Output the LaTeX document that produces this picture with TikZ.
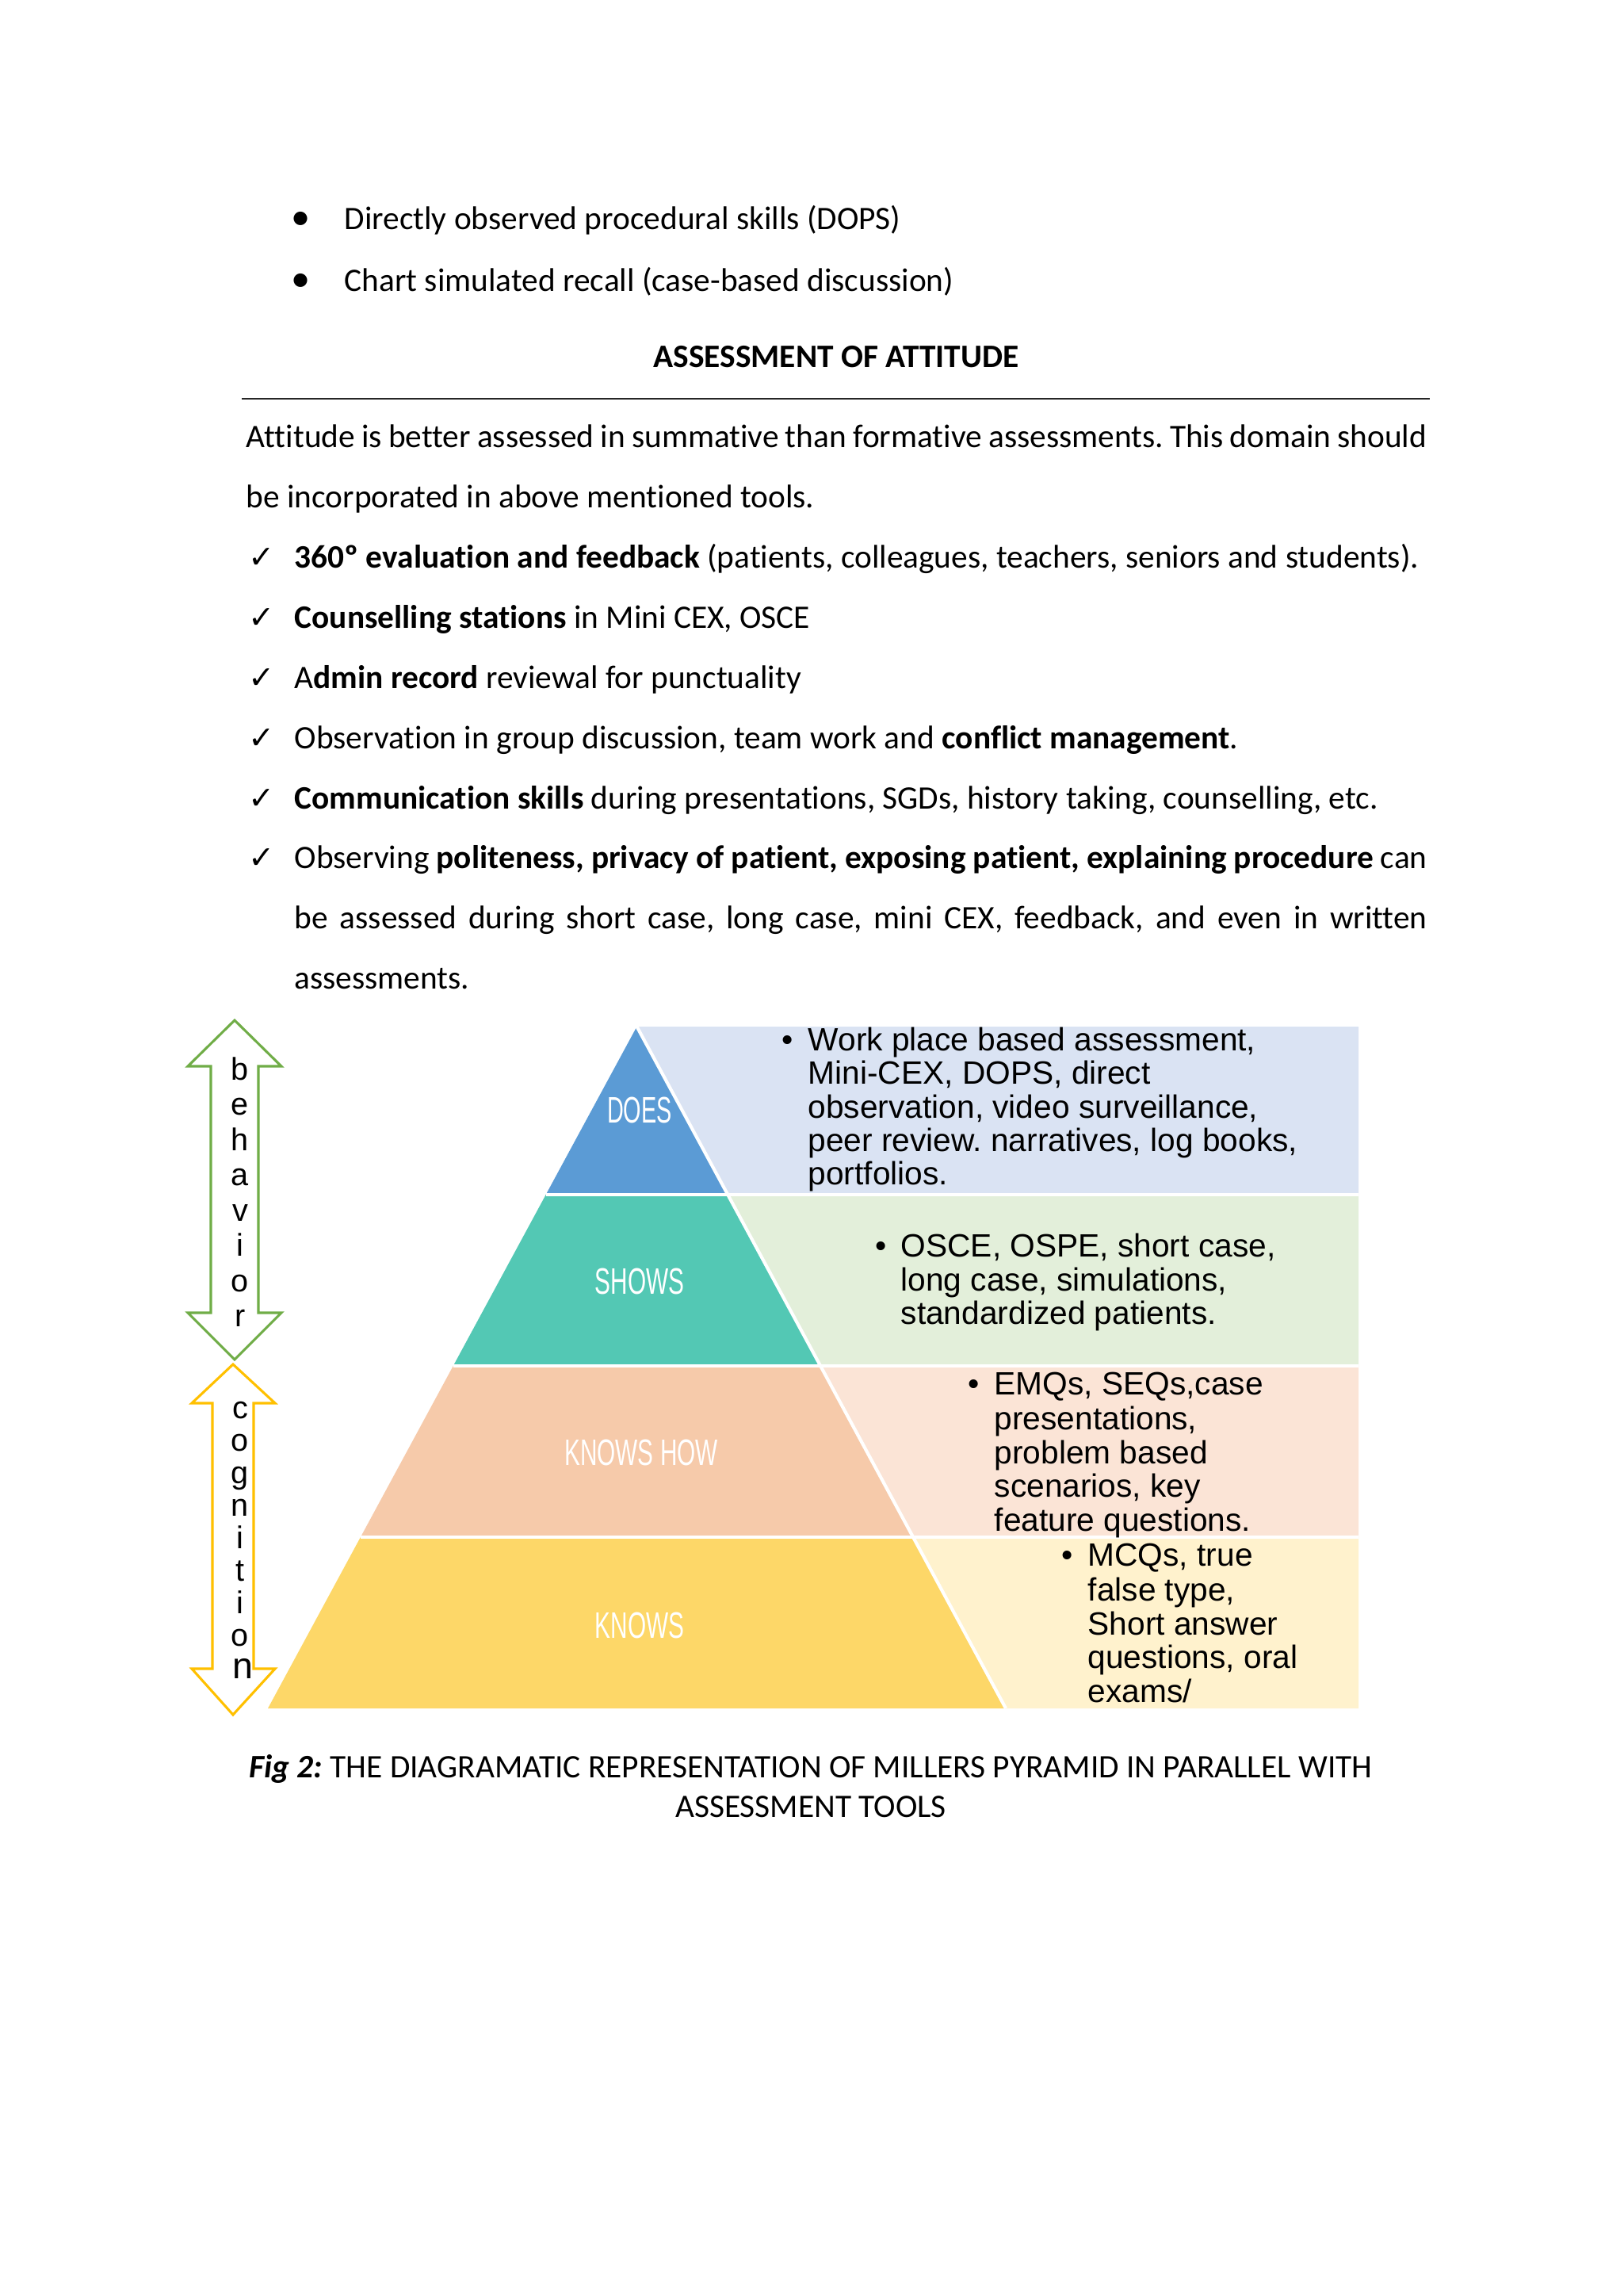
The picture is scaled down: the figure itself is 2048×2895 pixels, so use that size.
\documentclass[tikz,border=0pt]{standalone}
\usepackage{fontspec}
\setmainfont{Carlito}[Ligatures=NoCommon]
\newfontfamily\arialf{Liberation Sans}
\newfontfamily\dejavu{DejaVu Sans}
\frenchspacing
\definecolor{doesC}{HTML}{5B9BD5}
\definecolor{doesL}{HTML}{DAE3F3}
\definecolor{showsC}{HTML}{53C8B4}
\definecolor{showsL}{HTML}{E3EFDA}
\definecolor{khC}{HTML}{F6CAAA}
\definecolor{khL}{HTML}{FBE4D6}
\definecolor{knC}{HTML}{FDD768}
\definecolor{knL}{HTML}{FFF2CD}
\definecolor{arrG}{HTML}{70AD47}
\definecolor{arrY}{HTML}{FFC000}
\tikzset{
 body/.style={anchor=base west, inner sep=0pt, font=\fontsize{12}{14.6}\selectfont},
 chk/.style={anchor=base west, inner sep=0pt, font=\dejavu\fontsize{11.5}{12}\selectfont},
 bul/.style={anchor=base, inner sep=0pt, font=\fontsize{14}{15}\selectfont},
 dtext/.style={anchor=base west, inner sep=0pt, font=\arialf\fontsize{11.8}{12.3}\selectfont},
 dbul/.style={anchor=base, inner sep=0pt, font=\arialf\fontsize{11.8}{12.3}\selectfont},
 lvl/.style={text=white, inner sep=0pt, font=\arialf\fontsize{13.5}{13.5}\selectfont},
 letter/.style={anchor=base, inner sep=0pt, font=\arialf\fontsize{11.5}{12}\selectfont},
 sep/.style={white, line width=1.2pt},
 dblarrow/.style={line width=0.9pt, fill=white, line join=miter},
}
\begin{document}
\begin{tikzpicture}[x=0.29pt,y={(0pt,-0.29pt)}]
\useasboundingbox (0,0) rectangle (2048,2895);
\fill[white] (0,0) rectangle (2048,2895);

% ---------- body text ----------
\node[bul] (b1) at (380,290) {•};
\node[body] (t1) at (434,290) {Directly observed procedural skills (DOPS)};
\node[bul] (b2) at (380,368) {•};
\node[body] (t2) at (434,368) {Chart simulated recall (case-based discussion)};
\node[anchor=base, inner sep=0pt, font=\fontsize{12}{14.6}\selectfont\bfseries] (head) at (1055,464) {ASSESSMENT OF ATTITUDE};
\coordinate (rl) at (305,503);
\coordinate (rr) at (1804,503);
\draw[line width=0.6pt, black!85] (rl) -- (rr);
\node[body] (p1) at (310,565) {\makebox[432pt][s]{Attitude is better assessed in summative than formative assessments. This domain should}};
\node[body] (p2) at (310,641) {be incorporated in above mentioned tools.};

\node[chk] (c1) at (313,717) {✓};
\node[body] (l1) at (371,717) {\textbf{360º evaluation and feedback} (patients, colleagues, teachers, seniors and students).};
\node[chk] (c2) at (313,792) {✓};
\node[body] (l2) at (371,792) {\textbf{Counselling stations} in Mini CEX, OSCE};
\node[chk] (c3) at (313,868) {✓};
\node[body] (l3) at (371,868) {A\textbf{dmin record} reviewal for punctuality};
\node[chk] (c4) at (313,944) {✓};
\node[body] (l4) at (371,944) {Observation in group discussion, team work and \textbf{conflict management}.};
\node[chk] (c5) at (313,1020) {✓};
\node[body] (l5) at (371,1020) {\textbf{Communication skills} during presentations, SGDs, history taking, counselling, etc.};
\node[chk] (c6) at (313,1095) {✓};
\node[body] (l6) at (371,1095) {\makebox[414.4pt][s]{Observing \textbf{politeness, privacy of patient, exposing patient, explaining procedure} can}};
\node[body] (l7) at (371,1171) {\makebox[414.4pt][s]{be assessed during short case, long case, mini CEX, feedback, and even in written}};
\node[body] (l8) at (371,1247) {assessments.};

% ---------- pyramid geometry ----------
\coordinate (A) at (803.5,1295);
\coordinate (L1) at (688.7,1507);  \coordinate (R1) at (918.3,1507);
\coordinate (L2) at (571.8,1723);  \coordinate (R2) at (1035.2,1723);
\coordinate (L3) at (454.9,1939);  \coordinate (R3) at (1152.1,1939);
\coordinate (L4) at (338.0,2155);  \coordinate (R4) at (1269.0,2155);
\coordinate (E0) at (1714,1295);
\coordinate (E1) at (1714,1507);
\coordinate (E2) at (1714,1723);
\coordinate (E3) at (1714,1939);
\coordinate (E4) at (1714,2155);

% right-hand boxes
\fill[doesL]  (A) -- (E0) -- (E1) -- (R1) -- cycle;
\fill[showsL] (R1) -- (E1) -- (E2) -- (R2) -- cycle;
\fill[khL]    (R2) -- (E2) -- (E3) -- (R3) -- cycle;
\fill[knL]    (R3) -- (E3) -- (E4) -- (R4) -- cycle;
% pyramid bands
\fill[doesC]  (A) -- (R1) -- (L1) -- cycle;
\fill[showsC] (L1) -- (R1) -- (R2) -- (L2) -- cycle;
\fill[khC]    (L2) -- (R2) -- (R3) -- (L3) -- cycle;
\fill[knC]    (L3) -- (R3) -- (R4) -- (L4) -- cycle;
% white separators
\draw[sep] (A) -- (R4);
\draw[sep] (L1) -- (E1);
\draw[sep] (L2) -- (E2);
\draw[sep] (L3) -- (E3);

% level labels
\node[lvl] (does)  at (807,1400) {\scalebox{0.62}[1]{DOES}};
\node[lvl] (shows) at (807,1616) {\scalebox{0.64}[1]{SHOWS}};
\node[lvl] (kh)    at (809,1832) {\scalebox{0.64}[1]{KNOWS HOW}};
\node[lvl] (knows) at (807,2050) {\scalebox{0.64}[1]{KNOWS}};

% box texts
\node[dbul] (db) at (994,1325) {•};
\node[dtext] (d1) at (1019,1325) {Work place based assessment,};
\node[dtext] (d2) at (1019,1367) {Mini-CEX, DOPS, direct};
\node[dtext] (d3) at (1019,1410) {observation, video surveillance,};
\node[dtext] (d4) at (1019,1452) {peer review. narratives, log books,};
\node[dtext] (d5) at (1019,1494) {portfolios.};

\node[dbul] (sb) at (1112,1585) {•};
\node[dtext] (s1) at (1136,1585) {OSCE, OSPE, short case,};
\node[dtext] (s2) at (1136,1628) {long case, simulations,};
\node[dtext] (s3) at (1136,1670) {standardized patients.};

\node[dbul] (hb) at (1229,1759) {•};
\node[dtext] (h1) at (1254,1759) {EMQs, SEQs,case};
\node[dtext] (h2) at (1254,1803) {presentations,};
\node[dtext] (h3) at (1254,1846) {problem based};
\node[dtext] (h4) at (1254,1888) {scenarios, key};
\node[dtext] (h5) at (1254,1931) {feature questions.};

\node[dbul] (kb) at (1347,1975) {•};
\node[dtext] (k1) at (1372,1975) {MCQs, true};
\node[dtext] (k2) at (1372,2019) {false type,};
\node[dtext] (k3) at (1372,2062) {Short answer};
\node[dtext] (k4) at (1372,2104) {questions, oral};
\node[dtext] (k5) at (1372,2147) {exams/};

% ---------- double arrows ----------
\draw[dblarrow, draw=arrG] (296,1287) -- (355,1345) -- (326,1345) -- (326,1656) -- (355,1656)
  -- (296,1715) -- (237,1656) -- (266,1656) -- (266,1345) -- (237,1345) -- cycle;
\draw[dblarrow, draw=arrY] (294,1721) -- (347,1770) -- (320,1770) -- (320,2105) -- (347,2105)
  -- (294,2163) -- (242,2105) -- (268,2105) -- (268,1770) -- (242,1770) -- cycle;

\node[letter] (g1) at (303,1362) {b};
\node[letter] (g2) at (303,1406) {e};
\node[letter] (g3) at (303,1451) {h};
\node[letter] (g4) at (303,1495) {a};
\node[letter] (g5) at (303,1540) {v};
\node[letter] (g6) at (303,1584) {i};
\node[letter] (g7) at (303,1629) {o};
\node[letter] (g8) at (303,1673) {r};

\node[letter] (y1) at (303,1789) {c};
\node[letter] (y2) at (303,1830) {o};
\node[letter] (y3) at (303,1871) {g};
\node[letter] (y4) at (303,1912) {n};
\node[letter] (y5) at (303,1953) {i};
\node[letter] (y6) at (303,1994) {t};
\node[letter] (y7) at (303,2035) {i};
\node[letter] (y8) at (303,2076) {o};
\node[letter, font=\arialf\fontsize{13.5}{14}\selectfont] (y9) at (306,2117) {n};

% ---------- caption ----------
\node[anchor=base, inner sep=0pt, font=\fontsize{12}{14.6}\selectfont] (cap1) at (1023,2242) {\textbf{\textit{Fig 2:}} THE DIAGRAMATIC REPRESENTATION OF MILLERS PYRAMID IN PARALLEL WITH};
\node[anchor=base, inner sep=0pt, font=\fontsize{12}{14.6}\selectfont] (cap2) at (1023,2292) {ASSESSMENT TOOLS};
\end{tikzpicture}
\end{document}
